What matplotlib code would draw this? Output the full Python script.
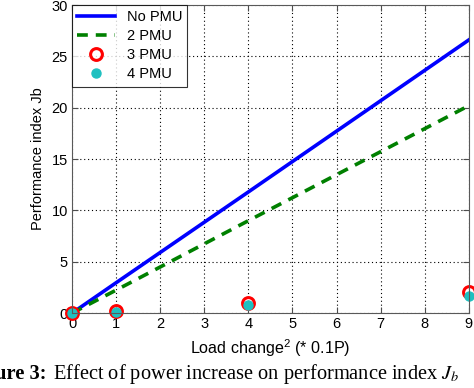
import numpy as np
import matplotlib.pyplot as plt

plt.rcParams['font.family'] = ['Liberation Sans', 'DejaVu Sans']
plt.rcParams['mathtext.fontset'] = 'custom'
plt.rcParams['mathtext.rm'] = 'Liberation Sans'
plt.rcParams['mathtext.it'] = 'Liberation Sans:italic'

# data
load_sq = [0, 1, 4, 9]
no_pmu = [0, 2.96, 11.8, 26.6]
pmu2 = [0, 2.24, 9.0, 20.2]
pmu3 = [0, 0.2, 1.0, 2.1]
pmu4 = [0, 0.15, 0.75, 1.7]

fig = plt.figure(figsize=(4.74, 3.88), dpi=100)
ax = fig.add_axes([0.152, 0.193, 0.837, 0.794])

ax.plot(load_sq, no_pmu, '-', color='#0000ff', lw=2.6, label='No PMU')
ax.plot(load_sq, pmu2, '--', color='#008000', lw=2.6, dashes=(3, 2.2), label='2 PMU')
ax.plot(load_sq, pmu3, 'o', ms=8.5, mfc='none', mec='#ff0000', mew=2.2, label='3 PMU', clip_on=False)
ax.plot(load_sq, pmu4, 'o', ms=6.5, mfc='#1fc0c0', mec='#1fc0c0', label='4 PMU', clip_on=False)

ax.set_xlim(0, 9)
ax.set_ylim(0, 30)
ax.set_xticks(range(0, 10))
ax.set_yticks(range(0, 31, 5))
ax.grid(True, color='black', linestyle=(0, (1, 2.5)), linewidth=0.8)
ax.tick_params(direction='in', length=4, top=True, right=True, labelsize=10.5, pad=3, color='0.3')
for s in ax.spines.values():
    s.set_color('0.35')
    s.set_linewidth(0.8)

ax.set_xlabel('Load change$^2$ (* 0.1P)', fontsize=11.6, labelpad=4)
ax.set_ylabel('Performance index Jb', fontsize=10.5, labelpad=5)

leg = ax.legend(loc='upper left', fontsize=10.5, handlelength=2.6, frameon=True,
                fancybox=False, borderaxespad=0, labelspacing=0.35, borderpad=0.35)
leg.get_frame().set_edgecolor('black')
leg.get_frame().set_linewidth(0.8)

# caption, cropped at the left edge as in the original scan
fig.text(0.099, 0.022, 'Figure 3:', fontsize=14.7, fontweight='bold', family='Liberation Serif', ha='right')
fig.text(0.112, 0.022, 'Effect of power increase on performance index $J_b$', fontsize=14.7,
         family='Liberation Serif', math_fontfamily='stix')

fig.savefig('out.png', dpi=100)
